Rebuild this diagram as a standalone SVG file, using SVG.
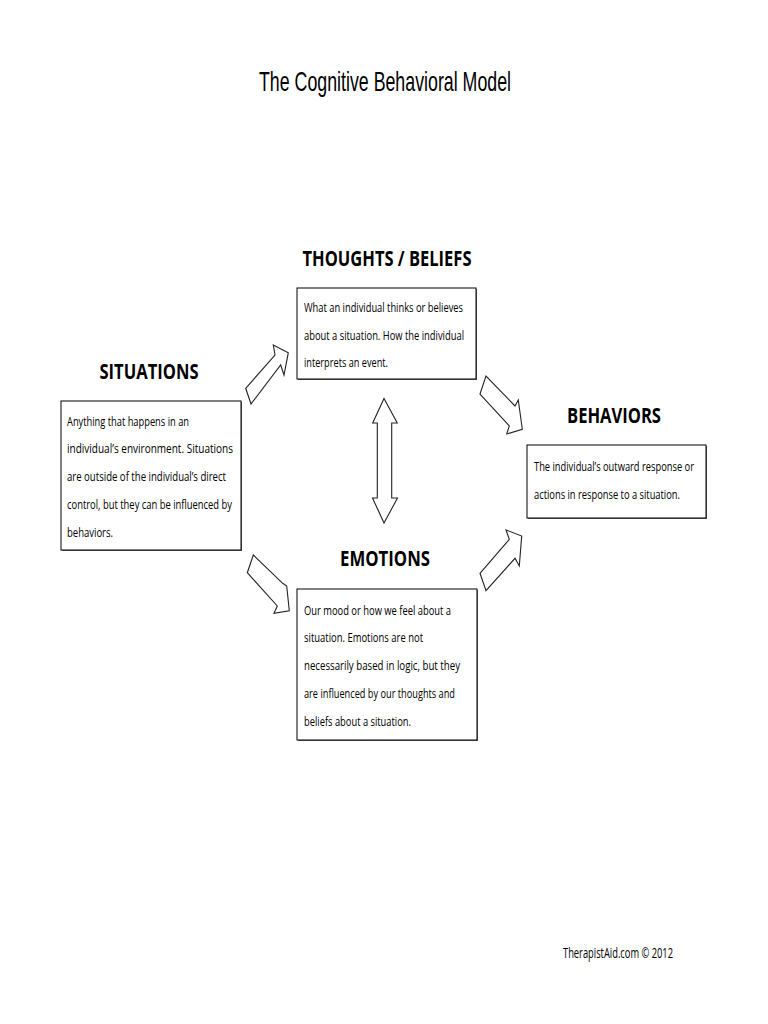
<svg xmlns="http://www.w3.org/2000/svg" width="768" height="1024" viewBox="0 0 768 1024">
<style>
.title{font-family:"Liberation Sans",Arial,sans-serif;font-size:28px;fill:#000}
.head{font-family:"Open Sans","Liberation Sans",sans-serif;font-weight:bold;font-size:22px;fill:#000;text-anchor:middle}
.body{font-family:"Open Sans","Liberation Sans",sans-serif;font-size:13.5px;fill:#000}
.foot{font-family:"Open Sans","Liberation Sans",sans-serif;font-size:14px;fill:#000}
.box{fill:#fff;stroke:#000;stroke-width:1}
.shadow{fill:#666}
.arrow{fill:#fff;stroke:#222;stroke-width:1.1;stroke-linejoin:miter}
</style>
<rect width="768" height="1024" fill="#fff"/>
<text class="title" x="259" y="91" textLength="252" lengthAdjust="spacingAndGlyphs">The Cognitive Behavioral Model</text>

<g id="thoughts">
<text class="head" x="387" y="266" textLength="169" lengthAdjust="spacingAndGlyphs">THOUGHTS / BELIEFS</text>
<rect class="shadow" x="298" y="289" width="179" height="91"/>
<rect class="box" x="297" y="288" width="179" height="91"/>
<text class="body" x="304" y="312" textLength="159" lengthAdjust="spacingAndGlyphs">What an individual thinks or believes</text>
<text class="body" x="304" y="340" textLength="160" lengthAdjust="spacingAndGlyphs">about a situation. How the individual</text>
<text class="body" x="304" y="367" textLength="84" lengthAdjust="spacingAndGlyphs">interprets an event.</text>
</g>

<g id="situations">
<text class="head" x="149" y="379" textLength="99" lengthAdjust="spacingAndGlyphs">SITUATIONS</text>
<rect class="shadow" x="62" y="402" width="180" height="149"/>
<rect class="box" x="61" y="401" width="180" height="149"/>
<text class="body" x="67" y="426" textLength="122" lengthAdjust="spacingAndGlyphs">Anything that happens in an</text>
<text class="body" x="67" y="453" textLength="166" lengthAdjust="spacingAndGlyphs">individual’s environment. Situations</text>
<text class="body" x="67" y="481" textLength="159" lengthAdjust="spacingAndGlyphs">are outside of the individual’s direct</text>
<text class="body" x="67" y="509" textLength="165" lengthAdjust="spacingAndGlyphs">control, but they can be influenced by</text>
<text class="body" x="67" y="537" textLength="46" lengthAdjust="spacingAndGlyphs">behaviors.</text>
</g>

<g id="behaviors">
<text class="head" x="614" y="423" textLength="94" lengthAdjust="spacingAndGlyphs">BEHAVIORS</text>
<rect class="shadow" x="528" y="446" width="179" height="73"/>
<rect class="box" x="527" y="445" width="179" height="73"/>
<text class="body" x="534" y="471" textLength="160" lengthAdjust="spacingAndGlyphs">The individual’s outward response or</text>
<text class="body" x="534" y="499" textLength="146" lengthAdjust="spacingAndGlyphs">actions in response to a situation.</text>
</g>

<g id="emotions">
<text class="head" x="385" y="566" textLength="90" lengthAdjust="spacingAndGlyphs">EMOTIONS</text>
<rect class="shadow" x="298" y="590" width="180" height="151"/>
<rect class="box" x="297" y="589" width="180" height="151"/>
<text class="body" x="304" y="615" textLength="147" lengthAdjust="spacingAndGlyphs">Our mood or how we feel about a</text>
<text class="body" x="304" y="642" textLength="119" lengthAdjust="spacingAndGlyphs">situation. Emotions are not</text>
<text class="body" x="304" y="670" textLength="156" lengthAdjust="spacingAndGlyphs">necessarily based in logic, but they</text>
<text class="body" x="304" y="698" textLength="151" lengthAdjust="spacingAndGlyphs">are influenced by our thoughts and</text>
<text class="body" x="304" y="726" textLength="107" lengthAdjust="spacingAndGlyphs">beliefs about a situation.</text>
</g>

<g id="connectors">
<polygon class="arrow" points="245.7,388.3 275,355 273.3,345 288.3,352.7 284,375 280.7,365 251,404"/>
<polygon class="arrow" points="480,394 486,376 515,406 518.3,400 522.3,429.3 506.7,434 509.3,426"/>
<polygon class="arrow" points="253.3,555 282.7,583.3 286.7,586 289.3,610.7 274,613.3 277.3,606 247.3,572.7"/>
<polygon class="arrow" points="506,530 521.7,536 519.3,566 515,558.3 486,590.7 480,573.3 509.3,539.3"/>
<polygon class="arrow" points="384,398.5 397.3,423 391.7,423 391.7,498 397.5,498 384,523 372.5,498 377.3,498 377.3,423 372.7,423"/>
</g>

<text class="foot" x="563" y="958" textLength="110" lengthAdjust="spacingAndGlyphs">TherapistAid.com © 2012</text>
</svg>
